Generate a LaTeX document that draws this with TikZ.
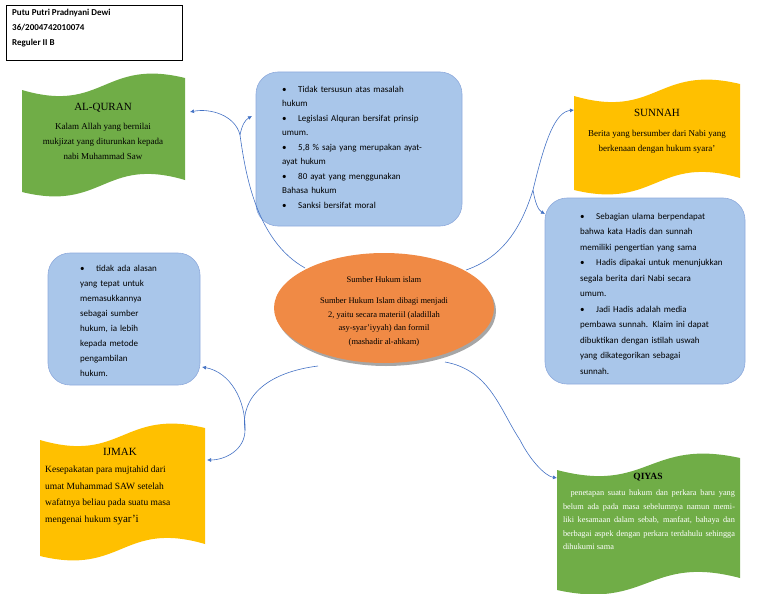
\documentclass[tikz,border=0pt]{standalone}
\usepackage{fontspec}
\setmainfont{Liberation Serif}
\newfontfamily\sans{Carlito}
\usetikzlibrary{arrows.meta}
\definecolor{gr}{HTML}{70AD47}
\definecolor{yl}{HTML}{FFC000}
\definecolor{bl}{HTML}{A9C6EA}
\definecolor{bd}{HTML}{8FAADC}
\definecolor{or}{HTML}{F08A45}
\definecolor{ar}{HTML}{4472C4}
\newcommand\wavebox[5]{% color, x0,y0,x1,y1
  \fill[#1] (#2,#3+10) .. controls ({#2+0.5*(#4-#2)},#3+34) and ({#2+0.5*(#4-#2)},#3-22) .. (#4,#3-2)
   -- (#4,#5-12) .. controls ({#2+0.5*(#4-#2)},#5-36) and ({#2+0.5*(#4-#2)},#5+20) .. (#2,#5) -- cycle;}
\tikzset{
 bbox/.style={draw=bd,fill=bl,rounded corners=22pt,line width=0.6pt},
 blist/.style={anchor=north west,font=\sans\fontsize{9}{14.5}\selectfont,align=left,inner sep=0pt},
 ttl/.style={font=\fontsize{11}{13}\selectfont},
 body/.style={font=\fontsize{9}{15}\selectfont,align=center,inner sep=0pt},
 con/.style={draw=ar,line width=0.6pt},
 arr/.style={con,-{Latex[length=4pt,width=4pt]}}
}
\newcommand\bitem[1]{\hangindent=16pt\hangafter=1\noindent\makebox[16pt][l]{\textbullet}#1\par}
\begin{document}
\begin{tikzpicture}[x=1pt,y=-1pt]
\useasboundingbox (0,0) rectangle (768,594);
% name box
\node[draw,line width=0.8pt,minimum width=176pt,minimum height=55pt,anchor=north west,inner sep=0pt] (nm) at (6,5) {};
\node[anchor=north west,font=\sans\bfseries\fontsize{9}{15}\selectfont,align=left,inner sep=0pt] (nmt) at (12,9) {Putu Putri Pradnyani Dewi\\36/2004742010074\\Reguler II B};
% wave boxes
\wavebox{gr}{22}{80}{185}{192}
\node[ttl] (q) at (103,108) {AL-QURAN};
\node[body] (qt) at (103,141) {Kalam Allah yang bernilai\\mukjizat yang diturunkan kepada\\nabi Muhammad Saw};
\wavebox{yl}{574}{86}{740}{190}
\node[ttl] (s) at (657,113) {SUNNAH};
\node[body] (st) at (657,142) {Berita yang bersumber dari Nabi yang\\berkenaan dengan hukum syara'};
\wavebox{yl}{40}{430}{205}{556}
\node[ttl] (ij) at (120,452) {IJMAK};
\node[body,align=left,anchor=north west,font=\fontsize{9.5}{16.5}\selectfont] (ijt) at (45,466) {Kesepakatan para mujtahid dari\\umat Muhammad SAW setelah\\wafatnya beliau pada suatu masa\\mengenai hukum {\fontsize{11}{13}\selectfont syar'i}};
\wavebox{gr}{557}{460}{740}{590}
\node[font=\bfseries\fontsize{9.5}{12}\selectfont] (qi) at (648,477) {QIYAS};
\node[body,align=justify,text width=172pt,anchor=north,text=white,font=\fontsize{8.3}{13.5}\selectfont] (qit) at (649,490) {\ \ penetapan suatu hukum dan perkara baru yang belum ada pada masa sebelumnya namun memiliki kesamaan dalam sebab, manfaat, bahaya dan berbagai aspek dengan perkara terdahulu sehingga dihukumi sama};
% blue boxes
\draw[bbox] (256,72) rectangle (462,226);
\node[blist,text width=175pt] (b1) at (282,86) {\bitem{Tidak tersusun atas masalah\\hukum}\bitem{Legislasi Alquran bersifat prinsip\\umum.}\bitem{5,8 \% saja yang merupakan ayat-\\ayat hukum}\bitem{80 ayat yang menggunakan\\Bahasa hukum}\bitem{Sanksi bersifat moral}};
\draw[bbox] (545,198) rectangle (745,384);
\node[blist,text width=175pt,font=\sans\fontsize{9}{15.5}\selectfont] (b2) at (580,213) {\bitem{Sebagian ulama berpendapat\\bahwa kata Hadis dan sunnah\\memiliki pengertian yang sama}\bitem{Hadis dipakai untuk menunjukkan\\segala berita dari Nabi secara\\umum.}\bitem{Jadi Hadis adalah media\\pembawa sunnah. Klaim ini dapat\\dibuktikan dengan istilah uswah\\yang dikategorikan sebagai\\sunnah.}};
\draw[bbox] (48,253) rectangle (200,385);
\node[blist,text width=110pt,font=\sans\fontsize{9}{15}\selectfont] (b3) at (80,265) {\bitem{tidak ada alasan\\yang tepat untuk\\memasukkannya\\sebagai sumber\\hukum, ia lebih\\kepada metode\\pengambilan\\hukum.}};
% ellipse
\fill[gray!70] (386,311) ellipse (110 and 55);
\fill[or] (384,308) ellipse (110 and 55);
\node[body,font=\fontsize{8.5}{13.5}\selectfont] (c) at (384,311) {Sumber Hukum islam\\[8pt]Sumber Hukum Islam dibagi menjadi\\2, yaitu secara materiil (aladillah\\asy-syar'iyyah) dan formil\\(mashadir al-ahkam)};
% connectors
\coordinate (e1) at (305,268);
\coordinate (j1) at (240,135);
\coordinate (e2) at (466,270);
\coordinate (j2) at (533,190);
\coordinate (e3) at (318,366);
\coordinate (j3) at (245,430);
\coordinate (e4) at (445,362);
\draw[arr] (e1) .. controls (255,240) and (245,170) .. (j1) .. controls (235,115) and (210,108) .. (190,112);
\draw[arr] (j1) .. controls (242,125) and (245,120) .. (252,116);
\draw[arr] (e2) .. controls (510,255) and (525,215) .. (j2) .. controls (545,140) and (555,112) .. (574,110);
\draw[arr] (j2) .. controls (535,202) and (538,210) .. (545,214);
\draw[arr] (e3) .. controls (270,372) and (240,395) .. (j3) .. controls (245,450) and (225,460) .. (207,460);
\draw[arr] (j3) .. controls (246,400) and (230,372) .. (202,367);
\draw[arr] (e4) .. controls (490,370) and (500,410) .. (520,440) .. controls (530,460) and (545,476) .. (557,478);
\end{tikzpicture}
\end{document}
